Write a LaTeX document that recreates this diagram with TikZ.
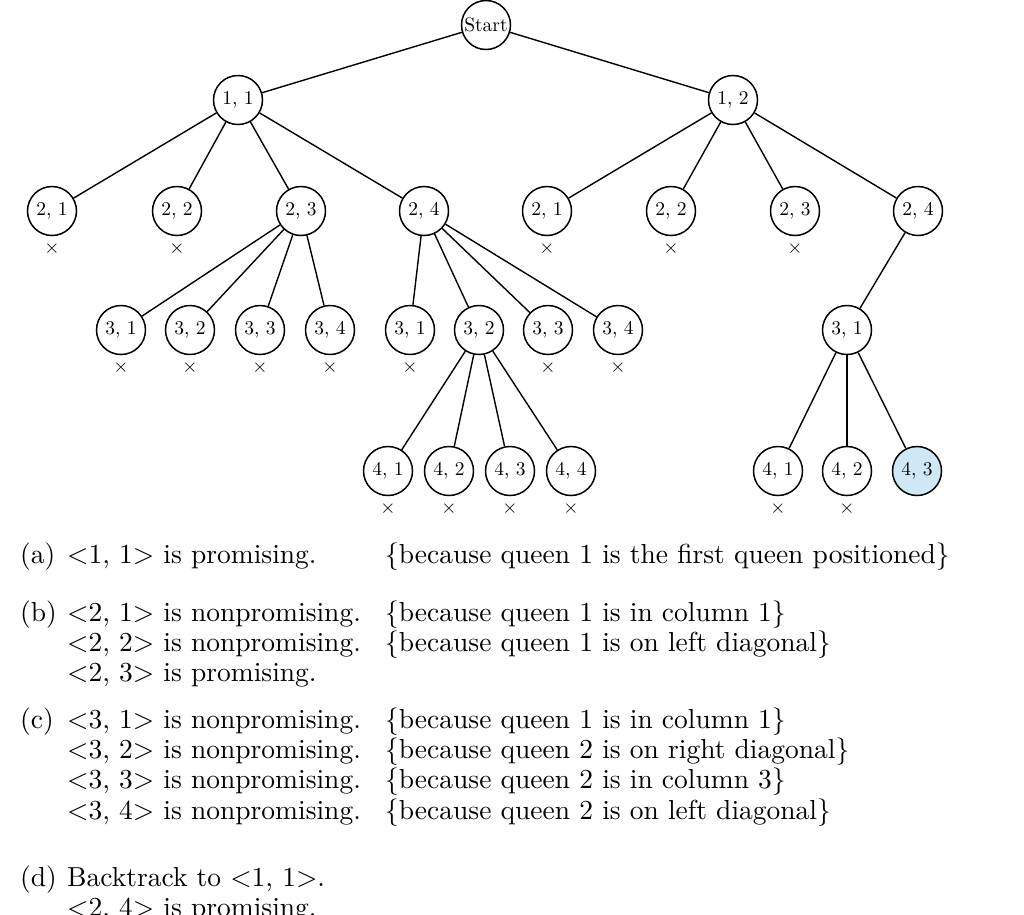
\documentclass[tikz,border=0pt]{standalone}
\usepackage{tikz}
\usepackage{graphicx}
\usetikzlibrary{positioning}
\definecolor{goalblue}{RGB}{206,232,246}
\newcommand{\celltxt}[1]{\scalebox{1.95}{#1}}
\newcommand{\steptxt}[1]{\scalebox{2.75}{#1}}

\begin{document}
\begin{tikzpicture}[x=1pt,y=-1pt]
  \tikzset{
    state/.style={circle, draw, line width=1.5pt, minimum size=49pt, inner sep=0pt},
    dead/.style={inner sep=0pt},
    edge/.style={line width=1.4pt},
    txt/.style={anchor=base west, inner sep=0pt},
  }
\clip (0,0) rectangle (1024,914);
\fill[white] (0,0) rectangle (1024,914);

% tree
\node[state] (start) at (486,25) {\celltxt{Start}};
\node[state] (q11) at (238,100) {\celltxt{1, 1}};
\node[state] (q12) at (733,100) {\celltxt{1, 2}};

\node[state] (l21) at (52,211) {\celltxt{2, 1}};
\node[state] (l22) at (177,211) {\celltxt{2, 2}};
\node[state] (l23) at (301,211) {\celltxt{2, 3}};
\node[state] (l24) at (424,211) {\celltxt{2, 4}};
\node[state] (r21) at (547,211) {\celltxt{2, 1}};
\node[state] (r22) at (671,211) {\celltxt{2, 2}};
\node[state] (r23) at (795,211) {\celltxt{2, 3}};
\node[state] (r24) at (918,211) {\celltxt{2, 4}};

\node[state] (a31) at (121,330) {\celltxt{3, 1}};
\node[state] (a32) at (190,330) {\celltxt{3, 2}};
\node[state] (a33) at (260,330) {\celltxt{3, 3}};
\node[state] (a34) at (330,330) {\celltxt{3, 4}};
\node[state] (b31) at (410,330) {\celltxt{3, 1}};
\node[state] (b32) at (479,330) {\celltxt{3, 2}};
\node[state] (b33) at (548,330) {\celltxt{3, 3}};
\node[state] (b34) at (618,330) {\celltxt{3, 4}};
\node[state] (r31) at (847,330) {\celltxt{3, 1}};

\node[state] (b41) at (388,471) {\celltxt{4, 1}};
\node[state] (b42) at (449,471) {\celltxt{4, 2}};
\node[state] (b43) at (510,471) {\celltxt{4, 3}};
\node[state] (b44) at (571,471) {\celltxt{4, 4}};
\node[state] (r41) at (778,471) {\celltxt{4, 1}};
\node[state] (r42) at (847,471) {\celltxt{4, 2}};
\node[state, fill=goalblue] (r43) at (917,471) {\celltxt{4, 3}};

\draw[edge] (start)--(q11);
\draw[edge] (start)--(q12);
\draw[edge] (q11)--(l21);
\draw[edge] (q11)--(l22);
\draw[edge] (q11)--(l23);
\draw[edge] (q11)--(l24);
\draw[edge] (q12)--(r21);
\draw[edge] (q12)--(r22);
\draw[edge] (q12)--(r23);
\draw[edge] (q12)--(r24);
\draw[edge] (l23)--(a31);
\draw[edge] (l23)--(a32);
\draw[edge] (l23)--(a33);
\draw[edge] (l23)--(a34);
\draw[edge] (l24)--(b31);
\draw[edge] (l24)--(b32);
\draw[edge] (l24)--(b33);
\draw[edge] (l24)--(b34);
\draw[edge] (b32)--(b41);
\draw[edge] (b32)--(b42);
\draw[edge] (b32)--(b43);
\draw[edge] (b32)--(b44);
\draw[edge] (r24)--(r31);
\draw[edge] (r31)--(r41);
\draw[edge] (r31)--(r42);
\draw[edge] (r31)--(r43);

% nonpromising marks
\node[dead, below=6pt of l21] (xl21) {\celltxt{$\times$}};
\node[dead, below=6pt of l22] (xl22) {\celltxt{$\times$}};
\node[dead, below=6pt of r21] (xr21) {\celltxt{$\times$}};
\node[dead, below=6pt of r22] (xr22) {\celltxt{$\times$}};
\node[dead, below=6pt of r23] (xr23) {\celltxt{$\times$}};
\node[dead, below=6pt of a31] (xa31) {\celltxt{$\times$}};
\node[dead, below=6pt of a32] (xa32) {\celltxt{$\times$}};
\node[dead, below=6pt of a33] (xa33) {\celltxt{$\times$}};
\node[dead, below=6pt of a34] (xa34) {\celltxt{$\times$}};
\node[dead, below=6pt of b31] (xb31) {\celltxt{$\times$}};
\node[dead, below=6pt of b33] (xb33) {\celltxt{$\times$}};
\node[dead, below=6pt of b34] (xb34) {\celltxt{$\times$}};
\node[dead, below=6pt of b41] (xb41) {\celltxt{$\times$}};
\node[dead, below=6pt of b42] (xb42) {\celltxt{$\times$}};
\node[dead, below=6pt of b43] (xb43) {\celltxt{$\times$}};
\node[dead, below=6pt of b44] (xb44) {\celltxt{$\times$}};
\node[dead, below=6pt of r41] (xr41) {\celltxt{$\times$}};
\node[dead, below=6pt of r42] (xr42) {\celltxt{$\times$}};

% steps
\node[txt] (ka) at (20,563) {\steptxt{(a)}};
\node[txt] (sa) at (67,563) {\steptxt{$<$1, 1$>$ is promising.}};
\node[txt] (wa) at (385,563) {\steptxt{\{because queen 1 is the first queen positioned\}}};

\node[txt] (kb) at (20,621) {\steptxt{(b)}};
\node[txt] (sb1) at (67,621) {\steptxt{$<$2, 1$>$ is nonpromising.}};
\node[txt] (wb1) at (385,621) {\steptxt{\{because queen 1 is in column 1\}}};
\node[txt] (sb2) at (67,651) {\steptxt{$<$2, 2$>$ is nonpromising.}};
\node[txt] (wb2) at (385,651) {\steptxt{\{because queen 1 is on left diagonal\}}};
\node[txt] (sb3) at (67,681) {\steptxt{$<$2, 3$>$ is promising.}};

\node[txt] (kc) at (20,728) {\steptxt{(c)}};
\node[txt] (sc1) at (67,728) {\steptxt{$<$3, 1$>$ is nonpromising.}};
\node[txt] (wc1) at (385,728) {\steptxt{\{because queen 1 is in column 1\}}};
\node[txt] (sc2) at (67,758) {\steptxt{$<$3, 2$>$ is nonpromising.}};
\node[txt] (wc2) at (385,758) {\steptxt{\{because queen 2 is on right diagonal\}}};
\node[txt] (sc3) at (67,788) {\steptxt{$<$3, 3$>$ is nonpromising.}};
\node[txt] (wc3) at (385,788) {\steptxt{\{because queen 2 is in column 3\}}};
\node[txt] (sc4) at (67,819) {\steptxt{$<$3, 4$>$ is nonpromising.}};
\node[txt] (wc4) at (385,819) {\steptxt{\{because queen 2 is on left diagonal\}}};

\node[txt] (kd) at (20,886) {\steptxt{(d)}};
\node[txt] (sd1) at (67,886) {\steptxt{Backtrack to $<$1, 1$>$.}};
\node[txt] (sd2) at (67,916) {\steptxt{$<$2, 4$>$ is promising.}};
\end{tikzpicture}
\end{document}
